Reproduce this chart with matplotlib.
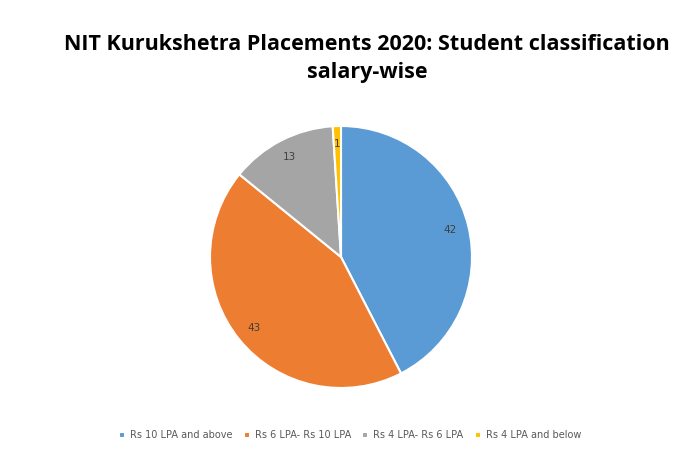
import matplotlib.pyplot as plt

# Dati
categorie = ["Rs 10 LPA and above", "Rs 6 LPA- Rs 10 LPA", "Rs 4 LPA- Rs 6 LPA", "Rs 4 LPA and below"]
valori = [42, 43, 13, 1]
colori = ["#5B9BD5", "#ED7D31", "#A5A5A5", "#FFC000"]

fig = plt.figure(figsize=(7, 4.5), dpi=100)
fig.patch.set_facecolor("white")

# Titolo
fig.text(0.524, 0.9, "NIT Kurukshetra Placements 2020: Student classification",
         ha="center", va="center", fontsize=15.5, fontweight="bold", family="Open Sans")
fig.text(0.524, 0.838, "salary-wise",
         ha="center", va="center", fontsize=15.5, fontweight="bold", family="Open Sans")

# Grafico a torta
ax = fig.add_axes([0.3, 0.1378, 0.3743, 0.5822])
ax.set_facecolor("none")
wedges, testi = ax.pie(valori, colors=colori, startangle=90, counterclock=False,
                       labels=[str(v) for v in valori], labeldistance=0.86,
                       wedgeprops=dict(edgecolor="white", linewidth=1.5),
                       textprops=dict(fontsize=7.5, color="#404040"))
for t in testi:
    t.set_ha("center")
    t.set_va("center")
ax.set_aspect("equal")
ax.set_xlim(-1, 1)
ax.set_ylim(-1, 1)

# Legenda
fig.legend(wedges, categorie, loc="center", bbox_to_anchor=(0.5, 0.033), ncol=4,
           frameon=False, fontsize=7, labelcolor="#595959", handlelength=0.6,
           handleheight=0.6, handletextpad=0.5, columnspacing=1.2)

plt.savefig("out.png", dpi=100)
plt.close()
